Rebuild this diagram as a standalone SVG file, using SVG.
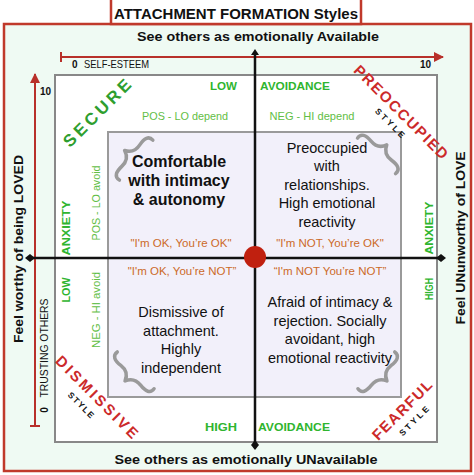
<svg xmlns="http://www.w3.org/2000/svg" width="474" height="475" viewBox="0 0 474 475">
<defs>
<style>
.b{font-family:"Liberation Sans",Arial,sans-serif;font-weight:bold;fill:#111}
.r{font-family:"Liberation Sans",Arial,sans-serif;fill:#111}
.g{font-family:"Liberation Sans",Arial,sans-serif;font-weight:bold;fill:#2fb52f;font-size:11px}
.lg{font-family:"Liberation Sans",Arial,sans-serif;fill:#62be45;font-size:11px}
.red{font-family:"Liberation Sans",Arial,sans-serif;font-weight:bold;fill:#cc2a2a;font-size:15px}
.sty{font-family:"Liberation Sans",Arial,sans-serif;font-weight:bold;fill:#111;font-size:8.5px}
.q{font-family:"Liberation Sans",Arial,sans-serif;fill:#cc6a28;font-size:11.5px}
.brace{fill:none;stroke:#9a9a9a;stroke-width:3.5;stroke-linecap:round;stroke-linejoin:round}
.ax{stroke:#111;stroke-width:2.5;fill:none}
.rax{stroke:#b8302a;stroke-width:2;fill:none}
</style>
<path id="br" d="M 8,-26 C 2,-27 0,-22 1,-14 C 2,-6 -2,-2 -7,0 C -2,2 2,6 1,14 C 0,22 2,27 8,26"/>
<marker id="ra" viewBox="0 0 10 10" refX="9" refY="5" markerWidth="5" markerHeight="5" orient="auto"><path d="M0,0 L10,5 L0,10 Z" fill="#b8302a"/></marker>
</defs>

<g id="frame">
<rect x="4" y="24" width="467" height="447" fill="#effaf3" stroke="#c0392b" stroke-width="2.5"/>
<rect x="55" y="75" width="382" height="367" fill="#ffffff" stroke="#888" stroke-width="2"/>
<rect x="108" y="132" width="293" height="265" fill="#f2f0fa" stroke="#9a9a9a" stroke-width="2"/>
</g>

<g id="title">
<rect x="111" y="-2" width="250" height="26" fill="#ffffff" stroke="#c0392b" stroke-width="2.5"/>
<text class="b" x="236" y="19" font-size="15" text-anchor="middle" textLength="244" lengthAdjust="spacingAndGlyphs">ATTACHMENT FORMATION Styles</text>
</g>

<g id="connectors">
<line class="rax" x1="61" y1="57" x2="443" y2="57" marker-end="url(#ra)"/>
<line class="rax" x1="61" y1="52" x2="61" y2="62"/>
<line class="rax" x1="35" y1="426" x2="35" y2="74" marker-end="url(#ra)"/>
<line class="rax" x1="30" y1="426" x2="40" y2="426"/>
<line class="ax" x1="255" y1="53" x2="255" y2="445"/>
<line class="ax" x1="30" y1="258" x2="441" y2="258"/>
<path d="M255,49 L259,55 L251,55 Z" fill="#111"/>
<path d="M255,440 L259,445 L255,450 L251,445 Z" fill="#111"/>
<path d="M25,258 L30,254 L35,258 L30,262 Z" fill="#111"/>
<path d="M436,258 L441,254 L446,258 L441,262 Z" fill="#111"/>
</g>

<g id="center-dot"><circle cx="255" cy="257" r="11" fill="#c0200f"/></g>

<g id="axis-labels">
<text class="b" x="258" y="41" font-size="13" text-anchor="middle" textLength="242" lengthAdjust="spacingAndGlyphs">See others as emotionally Available</text>
<text class="b" x="246" y="464" font-size="13" text-anchor="middle" textLength="263" lengthAdjust="spacingAndGlyphs">See others as emotionally UNavailable</text>
<text class="b" x="72" y="68" font-size="10">0</text>
<text class="r" x="84" y="68" font-size="10.5" textLength="65" lengthAdjust="spacingAndGlyphs">SELF-ESTEEM</text>
<text class="b" x="420" y="68" font-size="10">10</text>
<text class="b" x="40" y="95" font-size="10">10</text>
<text class="b" transform="translate(23,249) rotate(-90)" font-size="13" text-anchor="middle" textLength="188" lengthAdjust="spacingAndGlyphs">Feel worthy of being LOVED</text>
<text class="b" transform="translate(465,238) rotate(-90)" font-size="13" text-anchor="middle" textLength="173" lengthAdjust="spacingAndGlyphs">Feel UNunworthy of LOVE</text>
<text class="r" transform="translate(48,348) rotate(-90)" font-size="10.5" text-anchor="middle" textLength="99" lengthAdjust="spacingAndGlyphs">TRUSTING OTHERS</text>
<text class="b" transform="translate(48,410) rotate(-90)" font-size="10" text-anchor="middle">0</text>
</g>

<g id="dimension-labels">
<text class="g" x="210" y="90" textLength="27" lengthAdjust="spacingAndGlyphs">LOW</text>
<text class="g" x="260" y="90" textLength="70" lengthAdjust="spacingAndGlyphs">AVOIDANCE</text>
<text class="g" x="205" y="431" textLength="32" lengthAdjust="spacingAndGlyphs">HIGH</text>
<text class="g" x="258" y="431" textLength="72" lengthAdjust="spacingAndGlyphs">AVOIDANCE</text>
<text class="g" transform="translate(70,228) rotate(-90)" text-anchor="middle" textLength="55" lengthAdjust="spacingAndGlyphs">ANXIETY</text>
<text class="g" transform="translate(70,290) rotate(-90)" text-anchor="middle" textLength="25" lengthAdjust="spacingAndGlyphs">LOW</text>
<text class="g" transform="translate(433,228) rotate(-90)" text-anchor="middle" textLength="53" lengthAdjust="spacingAndGlyphs">ANXIETY</text>
<text class="g" transform="translate(433,289) rotate(-90)" text-anchor="middle" textLength="22" lengthAdjust="spacingAndGlyphs">HIGH</text>
<text class="lg" x="185" y="120" text-anchor="middle" textLength="86" lengthAdjust="spacingAndGlyphs">POS - LO depend</text>
<text class="lg" x="312" y="120" text-anchor="middle" textLength="85" lengthAdjust="spacingAndGlyphs">NEG - HI depend</text>
<text class="lg" transform="translate(100,203) rotate(-90)" text-anchor="middle" textLength="75" lengthAdjust="spacingAndGlyphs">POS - LO avoid</text>
<text class="lg" transform="translate(100,310) rotate(-90)" text-anchor="middle" textLength="76" lengthAdjust="spacingAndGlyphs">NEG - HI avoid</text>
</g>

<g id="style-secure">
<text class="b" transform="translate(97,113) rotate(-45)" font-size="17" fill="#2e9e2e" style="fill:#2e9e2e" text-anchor="middle" dy="0.35em" textLength="88" lengthAdjust="spacing">SECURE</text>
</g>
<g id="style-preoccupied">
<text class="red" transform="translate(401,112) rotate(45)" text-anchor="middle" dy="0.35em" textLength="126" lengthAdjust="spacing">PREOCCUPIED</text>
<text class="sty" transform="translate(390,123) rotate(45)" text-anchor="middle" dy="0.35em" textLength="38" lengthAdjust="spacing">STYLE</text>
</g>
<g id="style-dismissive">
<text class="red" transform="translate(97,397) rotate(45)" text-anchor="middle" dy="0.35em" textLength="110" lengthAdjust="spacing">DISMISSIVE</text>
<text class="sty" transform="translate(81,405) rotate(45)" text-anchor="middle" dy="0.35em" textLength="33" lengthAdjust="spacing">STYLE</text>
</g>
<g id="style-fearful">
<text class="red" transform="translate(402,410) rotate(-45)" text-anchor="middle" dy="0.35em" textLength="78" lengthAdjust="spacing">FEARFUL</text>
<text class="sty" transform="translate(414,421) rotate(-45)" text-anchor="middle" dy="0.35em" textLength="38" lengthAdjust="spacing">STYLE</text>
</g>

<g id="braces">
<use href="#br" class="brace" transform="translate(130,155) rotate(40)"/>
<use href="#br" class="brace" transform="translate(382,150) rotate(133)"/>
<use href="#br" class="brace" transform="translate(130,376) rotate(-45)"/>
<use href="#br" class="brace" transform="translate(382,376) rotate(-135)"/>
</g>

<g id="quadrant-secure">
<text class="b" font-size="16" text-anchor="middle"><tspan x="179" y="167">Comfortable</tspan><tspan x="179" y="186">with intimacy</tspan><tspan x="179" y="205">&amp; autonomy</tspan></text>
<text class="q" x="181" y="247" text-anchor="middle">"I'm OK, You’re OK"</text>
</g>
<g id="quadrant-preoccupied">
<text class="r" font-size="14.5" text-anchor="middle"><tspan x="327" y="153">Preoccupied</tspan><tspan x="327" y="171">with</tspan><tspan x="327" y="190">relationships.</tspan><tspan x="327" y="208">High emotional</tspan><tspan x="327" y="227">reactivity</tspan></text>
<text class="q" x="330" y="247" text-anchor="middle">"I'm NOT, You’re OK"</text>
</g>
<g id="quadrant-dismissive">
<text class="q" x="182" y="275" text-anchor="middle">"I'm OK, You’re NOT”</text>
<text class="r" font-size="14.5" text-anchor="middle"><tspan x="181" y="317">Dismissive of</tspan><tspan x="181" y="336">attachment.</tspan><tspan x="181" y="354">Highly</tspan><tspan x="181" y="373">independent</tspan></text>
</g>
<g id="quadrant-fearful">
<text class="q" x="330" y="275" text-anchor="middle">“I'm NOT You’re NOT”</text>
<text class="r" font-size="14.5" text-anchor="middle"><tspan x="330" y="307">Afraid of intimacy &amp;</tspan><tspan x="330" y="326">rejection. Socially</tspan><tspan x="330" y="344">avoidant, high</tspan><tspan x="330" y="363">emotional reactivity</tspan></text>
</g>
</svg>
